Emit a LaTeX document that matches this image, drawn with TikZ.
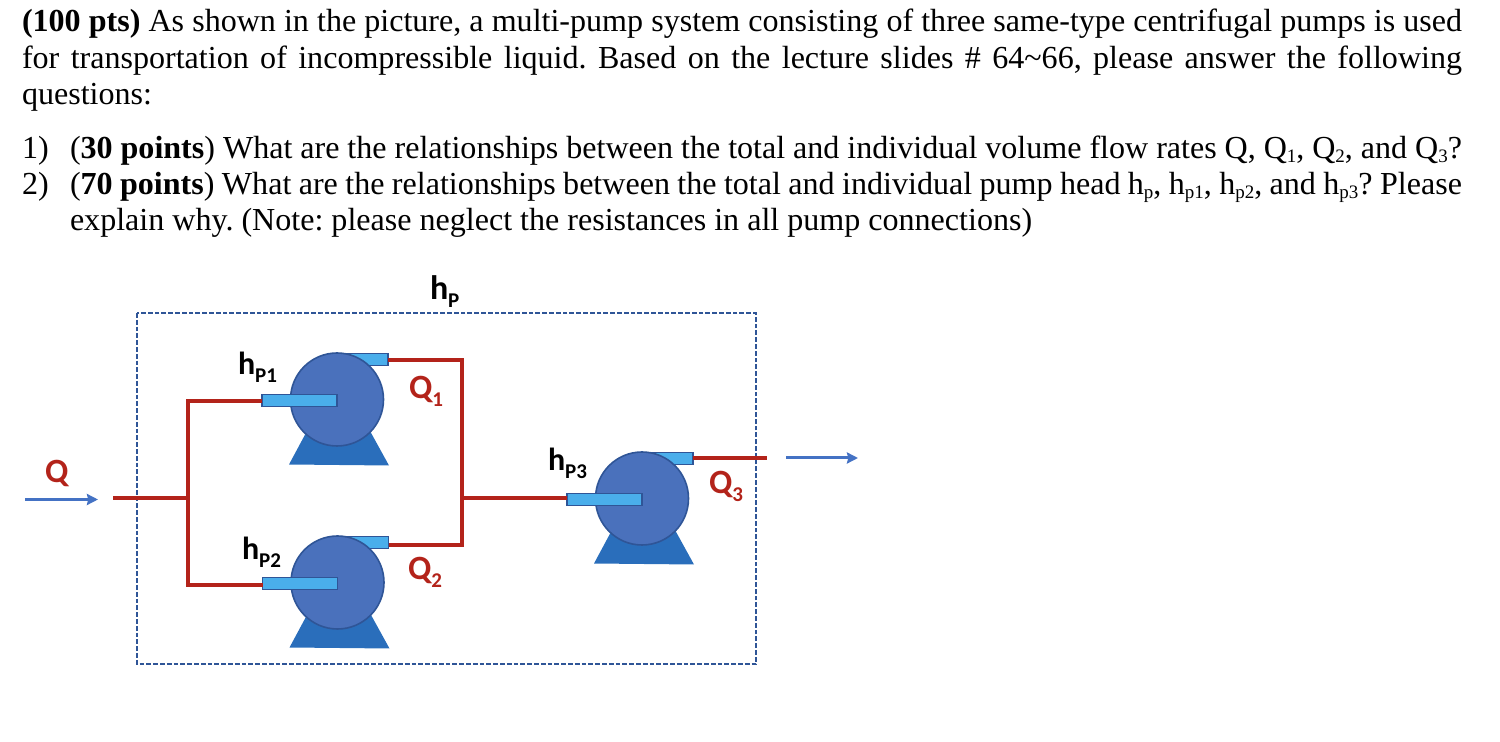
\documentclass[tikz,border=0pt]{standalone}
\usepackage{fontspec}
\setmainfont{Liberation Serif}
\newfontfamily\labelfont{Carlito}
\usetikzlibrary{arrows.meta}
\definecolor{pipered}{HTML}{B3231A}
\definecolor{pumpblue}{HTML}{4A71BC}
\definecolor{pumpedge}{HTML}{2F5597}
\definecolor{baseblue}{HTML}{2A6EBB}
\definecolor{nozzle}{HTML}{4AAEEB}
\definecolor{flowblue}{HTML}{4472C4}
\newcommand{\sbs}[1]{\raisebox{-2pt}{\fontsize{9.5}{12}\selectfont #1}}
\newcommand{\fullline}[2]{\makebox[#1][s]{\strut #2}}
\newcommand{\lbl}[2]{{\labelfont\bfseries\fontsize{16}{20}\selectfont #1\raisebox{-3.6pt}{\fontsize{10.5}{14}\selectfont #2}}}
\newcommand{\qlbl}[2]{{\labelfont\bfseries\fontsize{17}{20}\selectfont #1\raisebox{-3.6pt}{\fontsize{10.5}{14}\selectfont #2}}}
\newcommand{\pumpunit}[3]{%
  \fill[baseblue] (#2-48,#3+65.5) -- (#2+52,#3+66.5) -- (#2+33,#3+32) -- (#2-30,#3+32) -- cycle;
  \node[nozzlebox,minimum width=25.5pt,minimum height=6pt] (out#1) at (#2+25.5,#3-39.5) {};
  \node[pumpbody] (pump#1) at (#2,#3+0.5) {};
  \node[nozzlebox,minimum width=37.5pt,minimum height=6pt] (in#1) at (#2-37.5,#3+1.5) {};
}
\tikzset{
  x=0.5pt,y=-0.5pt,
  bodytext/.style={anchor=base west,inner sep=0pt,outer sep=0pt,font=\fontsize{16.03}{18}\selectfont},
  nozzlebox/.style={draw=pumpedge,fill=nozzle,line width=0.8pt,inner sep=0pt,outer sep=0pt},
  pumpbody/.style={circle,draw=pumpedge,fill=pumpblue,line width=0.8pt,minimum size=46.5pt,inner sep=0pt,outer sep=0pt},
  pipe/.style={draw=pipered,line width=1.6pt,line join=miter},
  flow/.style={draw=flowblue,line width=1.5pt,-{Stealth[length=5.5pt,width=5.5pt,inset=0.6pt]}},
  bound/.style={draw=pumpedge,line width=0.7pt,dash pattern=on 2.4pt off 1pt},
  tag/.style={anchor=base west,inner sep=0pt,outer sep=0pt},
}
\begin{document}
\frenchspacing
\begin{tikzpicture}
\useasboundingbox (0,0) rectangle (1500,742);
\node[bodytext] (l1) at (22,31.5) {\fullline{720pt}{\textbf{(100 pts)} As shown in the picture, a multi-pump system consisting of three same-type centrifugal pumps is used}};
\node[bodytext] (l2) at (22,68.5) {\fullline{720pt}{for transportation of incompressible liquid. Based on the lecture slides \# 64\textasciitilde 66, please answer the following}};
\node[bodytext] (l3) at (22,105) {questions:};
\node[bodytext] (n1) at (22,159) {1)};
\node[bodytext] (l4) at (70,159) {\fullline{696pt}{(\textbf{30 points}) What are the relationships between the total and individual volume flow rates Q, Q\sbs{1}, Q\sbs{2}, and Q\sbs{3}?}};
\node[bodytext] (n2) at (22,195) {2)};
\node[bodytext] (l5) at (70,195) {\fullline{696pt}{(\textbf{70 points}) What are the relationships between the total and individual pump head h\sbs{p}, h\sbs{p1}, h\sbs{p2}, and h\sbs{p3}? Please}};
\node[bodytext] (l6) at (70,231) {explain why. (Note: please neglect the resistances in all pump connections)};

\coordinate (bTL) at (137,313);
\coordinate (bBR) at (756,664);
\draw[bound] (bTL) rectangle (bBR);

\pumpunit{A}{337}{399}
\pumpunit{B}{337.5}{582}
\pumpunit{C}{642}{498}

\coordinate (feed) at (113,498);
\coordinate (split) at (188,498);
\coordinate (splitT) at (188,401);
\coordinate (splitB) at (188,585);
\coordinate (merge) at (462,498);
\coordinate (mergeT) at (462,360);
\coordinate (mergeB) at (462,545);
\coordinate (exit) at (767,458);
\draw[pipe] (feed) -- (split);
\draw[pipe] (inA.west |- splitT) -- (splitT) -- (splitB) -- (inB.west |- splitB);
\draw[pipe] (outA.east |- mergeT) -- (mergeT) -- (mergeB) -- (outB.east |- mergeB);
\draw[pipe] (merge) -- (inC.west |- merge);
\draw[pipe] (outC.east |- exit) -- (exit);

\coordinate (fa) at (25,499.5);
\coordinate (fb) at (98,499.5);
\coordinate (fc) at (786,458);
\coordinate (fd) at (858,458);
\draw[flow] (fa) -- (fb);
\draw[flow] (fc) -- (fd);

\node[tag] (hp) at (430,300) {\qlbl{h}{P}};
\node[tag] (hp1) at (238,375) {\lbl{h}{P1}};
\node[tag] (hp2) at (242,560) {\lbl{h}{P2}};
\node[tag] (hp3) at (548,471) {\lbl{h}{P3}};
\node[tag,text=pipered] (q) at (45,483) {\qlbl{Q}{}};
\node[tag,text=pipered] (q1) at (409,399) {\qlbl{Q}{1}};
\node[tag,text=pipered] (q2) at (408,580) {\qlbl{Q}{2}};
\node[tag,text=pipered] (q3) at (709,494) {\qlbl{Q}{3}};
\end{tikzpicture}
\end{document}
